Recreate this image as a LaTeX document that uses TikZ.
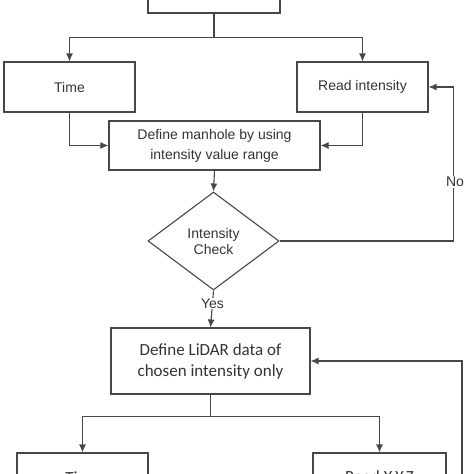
\documentclass[tikz,border=0pt]{standalone}
\usepackage{fontspec}
\setmainfont{Liberation Sans}
\newfontfamily\calfont{Carlito}
\usetikzlibrary{shapes.geometric, arrows.meta, positioning}

\begin{document}
\begin{tikzpicture}[
    x=1pt, y=1pt,
    line width=1.1pt,
    box/.style={rectangle, draw=black!72, minimum width=131pt, minimum height=50pt,
      align=center, inner sep=0pt, text=black!80,
      font=\fontsize{14}{20}\selectfont},
    calbox/.style={box, font=\calfont\fontsize{17}{21}\selectfont},
    check/.style={diamond, draw=black!72, minimum width=131pt, minimum height=98pt,
      align=center, inner sep=0pt, text=black!80,
      font=\fontsize{14}{16}\selectfont},
    label/.style={fill=white, inner sep=1pt, text=black!80, font=\fontsize{14}{16}\selectfont},
    flow/.style={draw=black!72, -{Latex[length=8pt,width=7pt]}}
]
  \useasboundingbox (0,0) rectangle (474,-474);
  \clip (0,0) rectangle (474,-474);

  % Boxes
  \node[box, minimum width=132pt] (top) at (214,12) {};
  \node[box] (time) at (69.5,-87) {Time};
  \node[box] (read) at (362.5,-87) {Read intensity};
  \node[box, minimum width=211pt, minimum height=49pt] (manhole) at (214.5,-145.5)
    {Define manhole by using\\intensity value range};
  \node[check] (check) at (213.5,-241) {Intensity\\Check};
  \node[calbox, minimum width=199pt, minimum height=66pt] (lidar) at (210.5,-361)
    {Define LiDAR data of\\chosen intensity only};
  \node[calbox] (timeb) at (82.5,-478) {Time};
  \node[calbox, minimum width=133pt] (readb) at (379.5,-478) {Read X,Y,Z};

  % Split after top box
  \draw[draw=black!72] (top.south) -- ++(0,-24) coordinate (split1);
  \draw[flow] (split1) -| (time.north);
  \draw[flow] (split1) -| (read.north);

  % Into manhole box
  \draw[flow] (time.south) |- (manhole.west);
  \draw[flow] (read.south) |- (manhole.east);
  \draw[flow] (manhole.south) -- (check.north);

  % No loop back to Read intensity
  \draw[flow] (check.east) -| ([xshift=25pt]read.east) -- (read.east);
  \node[label] (no) at (455,-182) {No};

  % Yes branch
  \draw[flow] (check.south) -- node[label, pos=0.35] (yes) {Yes} (lidar.north);

  % Split after LiDAR box
  \draw[draw=black!72] (lidar.south) -- ++(0,-22) coordinate (split2);
  \draw[flow] (split2) -| (timeb.north);
  \draw[flow] (split2) -| (readb.north);

  % Loop back from below
  \coordinate (loopin) at (462,-490);
  \draw[flow] (loopin) |- (lidar.east);
\end{tikzpicture}
\end{document}
